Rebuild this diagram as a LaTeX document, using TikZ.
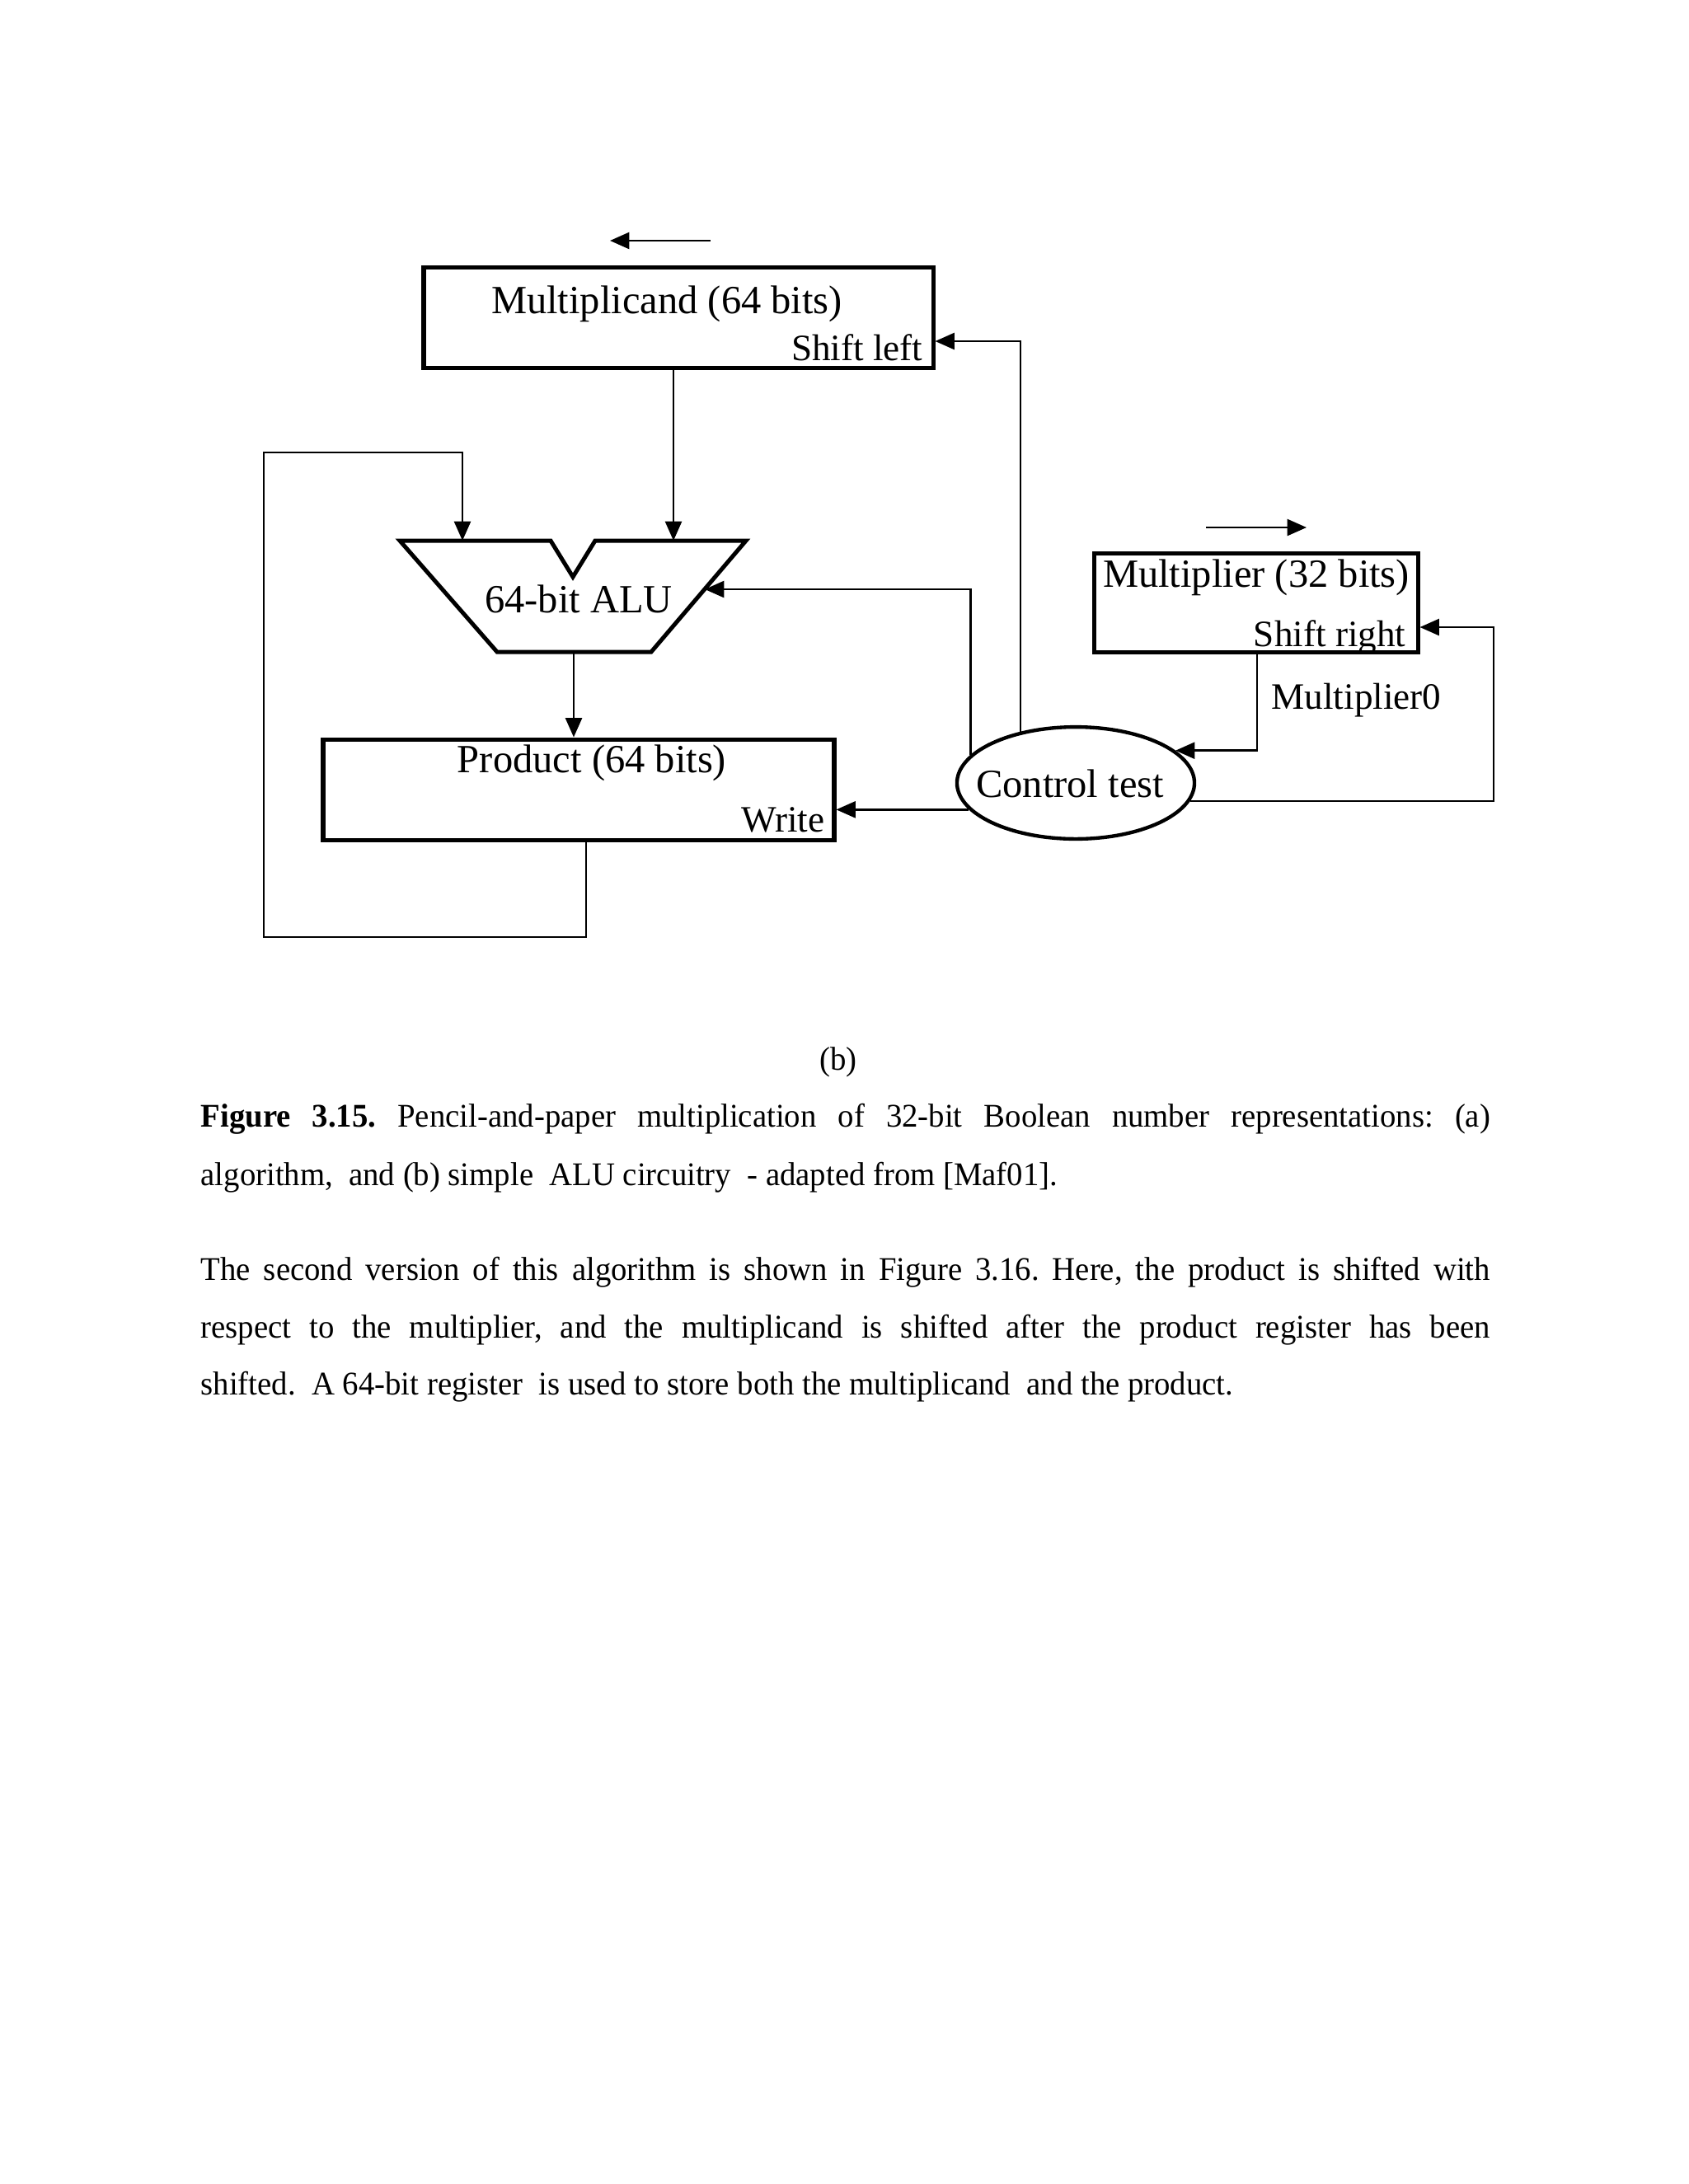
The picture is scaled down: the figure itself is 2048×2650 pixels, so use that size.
\documentclass[tikz,border=0pt]{standalone}
\usepackage{fontspec}
\setmainfont{Liberation Serif}
\newfontfamily\bodyfont{Liberation Serif}[FakeStretch=0.965]
\usetikzlibrary{arrows.meta,shapes.geometric,fit}
\begin{document}
\begin{tikzpicture}[x=0.29887pt,y=-0.29887pt,
  box/.style={draw, line width=1.5pt, inner sep=0pt},
  arr/.style={line width=0.75pt, -{Triangle[length=7pt,width=6pt]}},
  dtext/.style={font=\fontsize{14.5}{17}\selectfont, inner sep=0pt},
  stext/.style={font=\fontsize{13.5}{16}\selectfont, inner sep=0pt},
  btext/.style={font=\bodyfont\fontsize{12}{14}\selectfont\frenchspacing, inner sep=0pt, anchor=base west}]
\useasboundingbox[fill=white] (0,0) rectangle (2048,2650);

% registers
\node[box, fit={(514,324) (1132,446)}] (mcand) {};
\node[dtext, anchor=base] (mcandlbl) at (809,380) {Multiplicand (64 bits)};
\node[stext, anchor=base east] (sllbl) at (1120,437) {Shift left};

\node[box, fit={(392,897) (1012,1019)}] (prod) {};
\node[dtext, anchor=base] (prodlbl) at (718,937) {Product (64 bits)};
\node[stext, anchor=base east] (wrlbl) at (1001,1009) {Write};

\node[box, fit={(1327,671) (1720,791)}] (mplier) {};
\node[dtext, anchor=base] (mplierlbl) at (1524,712) {Multiplier (32 bits)};
\node[stext, anchor=base east] (srlbl) at (1706,784) {Shift right};
\node[stext, anchor=base west] (m0lbl) at (1542,860) {Multiplier0};

% ALU
\draw[line width=1.5pt, line join=miter] (485,656) -- (668,656) -- (695,700) -- (722,656) -- (905,656) -- (790,791) -- (603,791) -- cycle;
\node[dtext, anchor=base] (alu) at (702,743) {64-bit ALU};
\coordinate (aluA) at (561,656);
\coordinate (aluB) at (817,656);
\coordinate (aluR) at (855,715);
\coordinate (aluOut) at (696,791);

% control
\node[draw, ellipse, line width=1.3pt, minimum width=86.1pt, minimum height=40.6pt, inner sep=0pt] (ctrl) at (1305,950) {};
\node[dtext, anchor=base] (ctrllbl) at (1298,967) {Control test};

% shift direction arrows
\coordinate (la1) at (862,292);
\coordinate (la2) at (740,292);
\draw[arr] (la1) -- (la2);
\coordinate (ra1) at (1463,640);
\coordinate (ra2) at (1585,640);
\draw[arr] (ra1) -- (ra2);

% connectors
\coordinate (slport) at (1132,414);
\draw[arr] (ctrl.137) |- (mcand.east |- slport);
\draw[arr] (mcand.south -| aluB) -- (aluB);
\draw[arr] (aluOut) -- (prod.north -| aluOut);
\coordinate (loopx) at (711,1137);
\coordinate (lc) at (320,549);
\draw[arr] (prod.south -| loopx) -- (loopx) -| (lc) -- (aluA |- lc) -- (aluA);
\draw[arr] (ctrl.165) |- (aluR);
\draw[arr] (ctrl.194) -- (ctrl.194 -| prod.east);
\coordinate (m0) at (1525,791);
\draw[arr] (mplier.south -| m0) |- (ctrl.18);
\coordinate (srport) at (1720,761);
\coordinate (rc) at (1812,761);
\draw[arr] (ctrl.-9) -| (rc) -- (mplier.east |- srport);

% caption and text
\node[btext, anchor=base] (sub) at (1017,1298) {(b)};
\node[btext] (c1) at (243,1367) {\makebox[467.5pt][s]{\textbf{Figure 3.15.} Pencil-and-paper multiplication of 32-bit Boolean number representations: (a)}};
\node[btext] (c2) at (243,1438) {algorithm,\ \ and (b) simple\ \ ALU circuitry\ \ - adapted from [Maf01].};
\node[btext] (p1) at (243,1553) {\makebox[467.5pt][s]{The second version of this algorithm is shown in Figure 3.16. Here, the product is shifted with}};
\node[btext] (p2) at (243,1623) {\makebox[467.5pt][s]{respect to the multiplier, and the multiplicand is shifted after the product register has been}};
\node[btext] (p3) at (243,1692) {shifted.\ \ A 64-bit register\ \ is used to store both the multiplicand\ \ and the product.};
\end{tikzpicture}
\end{document}
